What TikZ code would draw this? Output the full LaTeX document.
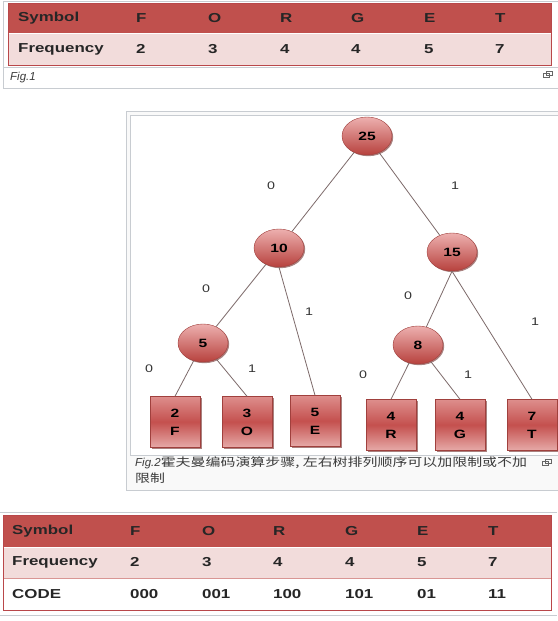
\documentclass[tikz,border=0pt]{standalone}
\usepackage{fontspec}
\setmainfont{Liberation Sans}
\newfontfamily\widesans[FakeStretch=1.3]{Liberation Sans}
\newfontfamily\cjk[FakeStretch=1.3]{Noto Sans CJK SC}
\usetikzlibrary{shapes.geometric,shadows}

\definecolor{hdrred}{HTML}{C0504D}
\definecolor{rowpink}{HTML}{F2DCDB}
\definecolor{tblline}{HTML}{B9474A}
\definecolor{thumbline}{HTML}{C8CCD1}
\definecolor{thumbbg}{HTML}{F9F9F9}
\definecolor{nodetop}{HTML}{EDB0AF}
\definecolor{nodebot}{HTML}{B7413D}
\definecolor{nodeedge}{HTML}{A0403D}
\definecolor{leaftop}{HTML}{DD8E8C}
\definecolor{leafmid}{HTML}{C4504E}
\definecolor{leafbot}{HTML}{E6AAA8}
\definecolor{branchcol}{HTML}{7D6A6A}
\definecolor{capcol}{HTML}{3B3B3B}

\begin{document}
\begin{tikzpicture}
[
	x=1pt,y=-1pt,
	sumnode/.style={ellipse,draw=nodeedge,top color=nodetop,bottom color=nodebot,minimum width=50pt,minimum height=38pt,inner sep=0pt,font=\widesans\bfseries\fontsize{12}{14}\selectfont,drop shadow={shadow xshift=1.2pt,shadow yshift=-1.2pt,fill=nodeedge!70!black,opacity=0.6}},
	leafnode/.style={rectangle,draw=nodeedge,top color=leaftop,bottom color=leafbot,middle color=leafmid,minimum width=50pt,minimum height=51pt,inner sep=0pt,align=center,font=\widesans\bfseries\fontsize{12}{18}\selectfont,drop shadow={shadow xshift=1.5pt,shadow yshift=-1.5pt,fill=nodeedge!70!black,opacity=0.6}},
	bitlabel/.style={font=\widesans\fontsize{11}{13}\selectfont,text=black!80},
	cell/.style={anchor=west,inner sep=0pt,font=\widesans\bfseries\fontsize{13}{15}\selectfont,text=black!85},
	branch/.style={draw=branchcol,line width=0.8pt},
	figcap/.style={anchor=west,inner sep=0pt,text=capcol,font=\fontsize{11.5}{16}\selectfont}
]

	\useasboundingbox (0,0) rectangle (557,621);

	% Fig.1 table
	\draw[thumbline,fill=white] (3,1) rectangle (562,88);
	\fill[hdrred] (8,3) rectangle (551,33);
	\fill[rowpink] (8,33) rectangle (551,65);
	\draw[tblline,line width=0.6pt] (8,3) rectangle (551,65);
	\draw[white,line width=0.6pt] (8.5,33) -- (550.5,33);
	\draw[thumbline] (3,67) -- (562,67);
	\node[figcap] at (10,78) (figa) {\itshape Fig.1};
	\draw[black!60,line width=0.5pt] (543,73) rectangle (549,77) (546,71) rectangle (552,75);

	\node[cell] at (18,18) (ta0) {Symbol};
	\node[cell] at (18,49) (tb0) {Frequency};
	\foreach \n/\x/\s/\f in {1/136/F/2,2/208/O/3,3/280/R/4,4/351/G/4,5/424/E/5,6/495/T/7}
	{
		\node[cell] at (\x,18) (ta\n) {\s};
		\node[cell] at (\x,49) (tb\n) {\f};
	}

	% Fig.2 tree
	\draw[thumbline,fill=thumbbg] (126,111) rectangle (562,490);
	\draw[thumbline,fill=white] (130,115) rectangle (562,455);

	\node[sumnode] at (367,136) (n25) {25};
	\node[sumnode] at (279,248) (n10) {10};
	\node[sumnode] at (452,252) (n15) {15};
	\node[sumnode] at (203,343) (n5) {5};
	\node[sumnode] at (418,345) (n8) {8};

	\node[leafnode] at (175,422) (lf) {2\\F};
	\node[leafnode] at (247,422) (lo) {3\\O};
	\node[leafnode] at (315,421) (le) {5\\E};
	\node[leafnode] at (391,425) (lr) {4\\R};
	\node[leafnode] at (460,425) (lg) {4\\G};
	\node[leafnode] at (532,425) (lt) {7\\T};

	\draw[branch] (n25) -- (n10);
	\draw[branch] (n25) -- (n15);
	\draw[branch] (n10) -- (n5);
	\draw[branch] (n10.south) -- (le.north);
	\draw[branch] (n15.south) -- (n8);
	\draw[branch] (n15.south) -- (lt.north);
	\draw[branch] (n5) -- (lf.north);
	\draw[branch] (n5) -- (lo.north);
	\draw[branch] (n8) -- (lr.north);
	\draw[branch] (n8) -- (lg.north);

	\node[bitlabel] at (271,186) (b25l) {0};
	\node[bitlabel] at (455,186) (b25r) {1};
	\node[bitlabel] at (206,289) (b10l) {0};
	\node[bitlabel] at (309,312) (b10r) {1};
	\node[bitlabel] at (408,296) (b15l) {0};
	\node[bitlabel] at (535,322) (b15r) {1};
	\node[bitlabel] at (149,369) (b5l) {0};
	\node[bitlabel] at (252,369) (b5r) {1};
	\node[bitlabel] at (363,375) (b8l) {0};
	\node[bitlabel] at (468,375) (b8r) {1};

	\node[figcap,anchor=north west,align=left] at (135,457) (figb) {{\itshape Fig.2}{\cjk 霍夫曼编码演算步骤, 左右树排列顺序可以加限制或不加}\\{\cjk 限制}};
	\draw[black!60,line width=0.5pt] (542,461) rectangle (548,465) (545,459) rectangle (551,463);

	% result table
	\draw[thumbline] (0,512) -- (557,512);
	\fill[hdrred] (3,515) rectangle (551,547);
	\fill[rowpink] (3,547) rectangle (551,578);
	\fill[white] (3,578) rectangle (551,610);
	\draw[tblline,line width=0.6pt] (3,515) rectangle (551,610);
	\draw[white,line width=0.6pt] (3.5,547) -- (550.5,547);
	\draw[hdrred!60,line width=0.6pt] (3.5,578) -- (550.5,578);
	\draw[thumbline] (0,615) -- (557,615);

	\node[cell] at (12,531) (ca0) {Symbol};
	\node[cell] at (12,562) (cb0) {Frequency};
	\node[cell] at (12,594) (cc0) {CODE};
	\foreach \n/\x/\s/\f/\c in {1/130/F/2/000,2/202/O/3/001,3/273/R/4/100,4/345/G/4/101,5/417/E/5/01,6/488/T/7/11}
	{
		\node[cell] at (\x,531) (ca\n) {\s};
		\node[cell] at (\x,562) (cb\n) {\f};
		\node[cell] at (\x,594) (cc\n) {\c};
	}

\end{tikzpicture}
\end{document}
